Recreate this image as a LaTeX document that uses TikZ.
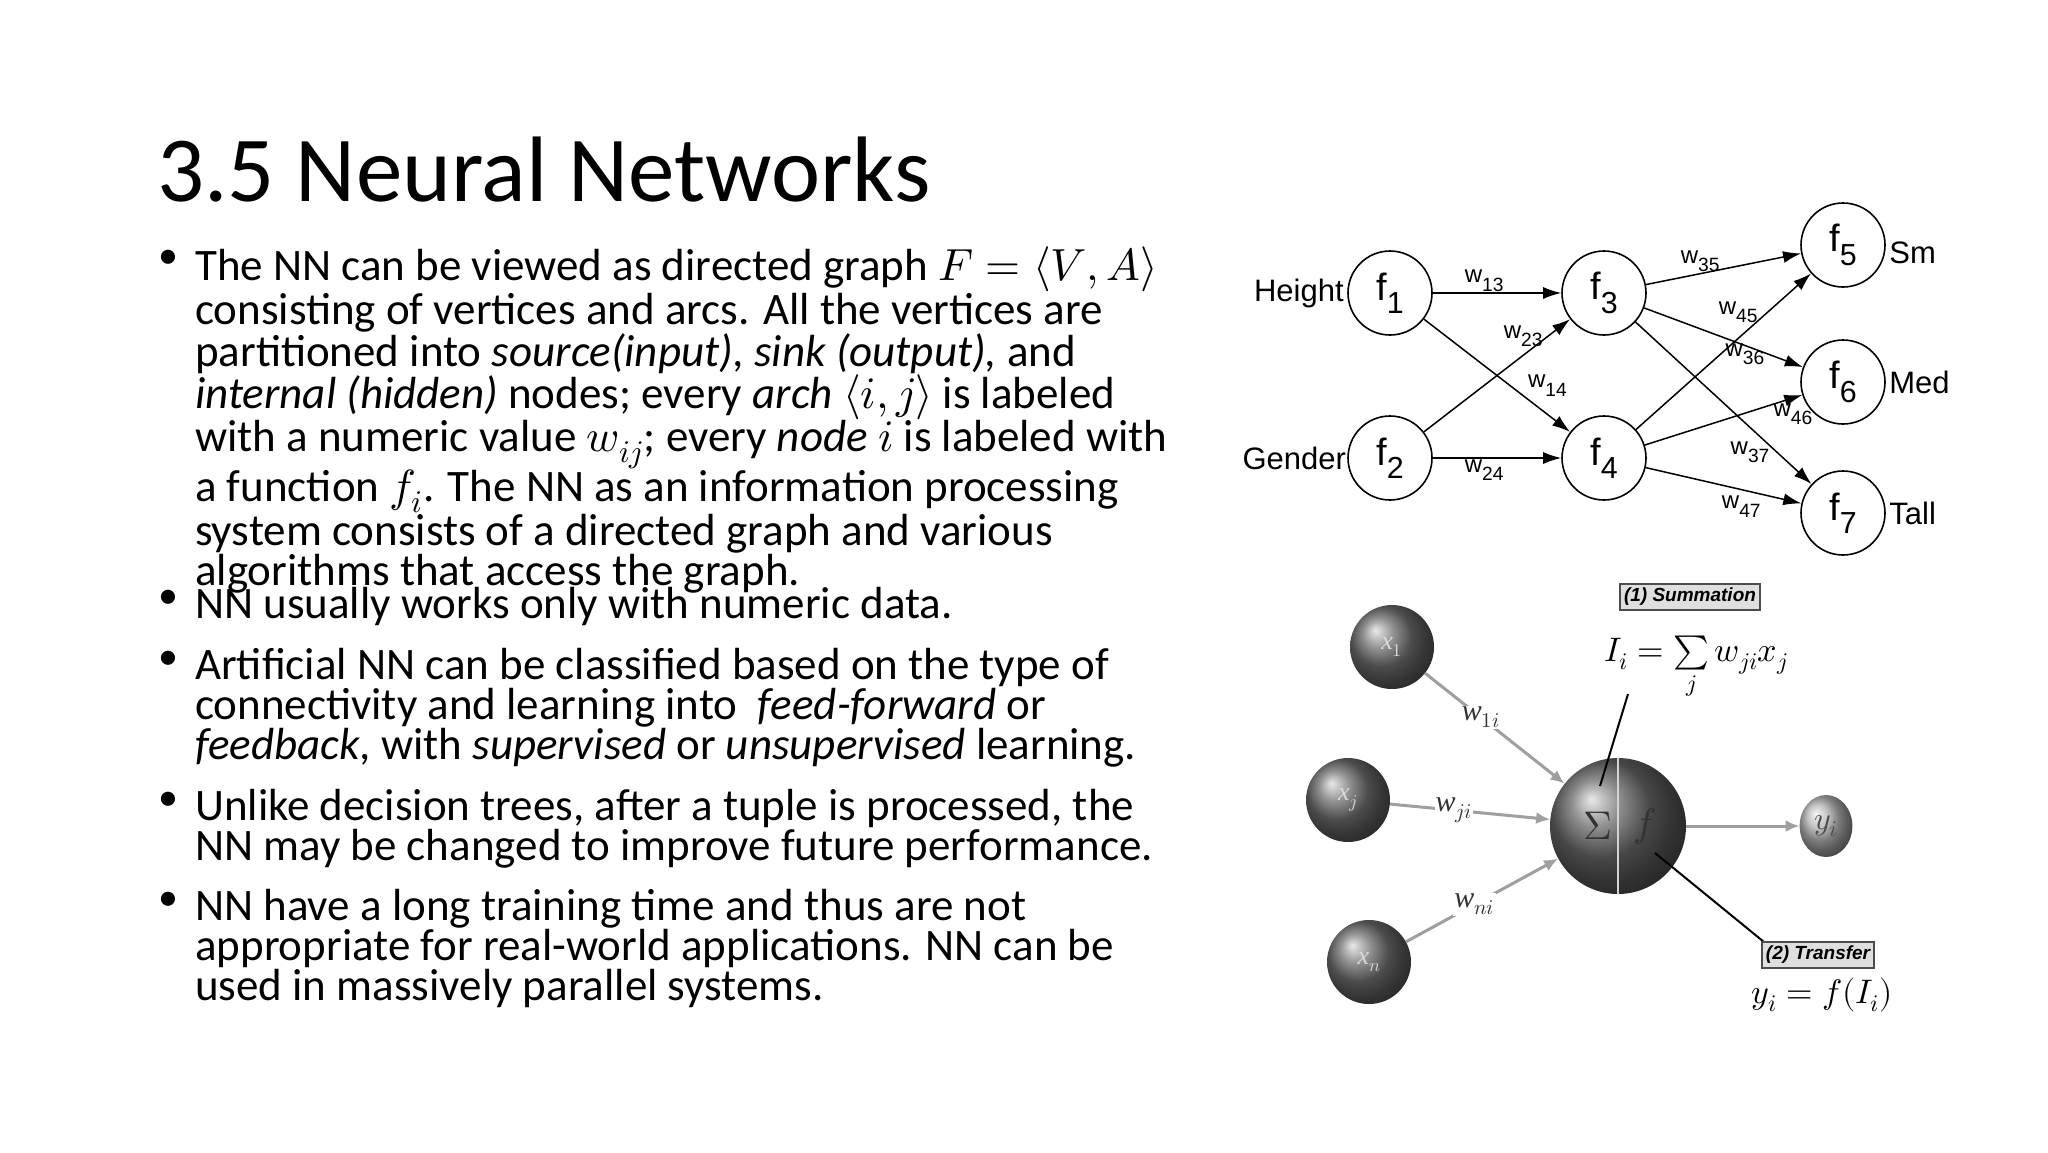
\documentclass[tikz,border=0pt]{standalone}
\usepackage{fontspec}
\usepackage{unicode-math}
\setmathfont{Latin Modern Math}
\setmainfont{Carlito}
\newfontfamily\arial{Liberation Sans}
\newfontfamily\timesf{Liberation Serif}
\usetikzlibrary{arrows.meta}
\newcommand{\sbx}[1]{\raisebox{-0.35em}{\fontsize{0.8em}{1em}\selectfont #1}}
\begin{document}
\begin{tikzpicture}[x=1pt,y=-1pt,
  fn/.style={circle,draw,line width=1.6pt,minimum size=84pt,inner sep=0pt,font=\arial\fontsize{38}{38}\selectfont},
  lbl/.style={font=\arial\fontsize{31}{31}\selectfont},
  wl/.style={font=\arial\fontsize{24}{24}\selectfont,inner sep=1pt},
  ar/.style={-{Latex[length=18pt,width=12pt]},line width=1.5pt},
  body/.style={anchor=north west,align=left,inner sep=0pt,font=\fontsize{45}{40}\selectfont},
  bul/.style={anchor=north west,inner sep=0pt,font=\fontsize{40}{40}\selectfont},
  ball/.style={circle,minimum size=84pt,inner sep=0pt,ball color=gray!85!black,text=gray!30,font=\timesf\itshape\fontsize{26}{26}\selectfont},
  gl/.style={draw=gray!75,line width=3pt,-{Latex[length=14pt,width=12pt]}},
  wt/.style={font=\timesf\itshape\fontsize{30}{30}\selectfont,fill=white,inner sep=1pt,text=gray!40!black},
  boxl/.style={draw=gray!60!black,fill=gray!25,line width=1.5pt,font=\arial\bfseries\itshape\fontsize{19}{19}\selectfont,inner sep=4pt}
]
\useasboundingbox (0,0) rectangle (2048,1152);
\fill[white] (0,0) rectangle (2048,1152);
\node[anchor=base west,inner sep=0pt,font=\fontsize{93}{93}\selectfont] (title) at (157,201) {3.5 Neural Networks};

\node[bul] (b1) at (158,250) {•};
\node[body] (t1) at (195,247) {The NN can be viewed as directed graph $F=\langle V,A\rangle$\\
consisting of vertices and arcs. All the vertices are\\
partitioned into \textit{source(input), sink (output),} and\\
\textit{internal (hidden)} nodes; every \textit{arch} $\langle i,j\rangle$ is labeled\\
with a numeric value $w_{ij}$; every \textit{node} $i$ is labeled with\\
a function $f_i$. The NN as an information processing\\
system consists of a directed graph and various\\
algorithms that access the graph.};
\node[bul] (b2) at (158,590) {•};
\node[body] (t2) at (195,587) {NN usually works only with numeric data.};
\node[bul] (b3) at (158,651) {•};
\node[body] (t3) at (195,648) {Artificial NN can be classified based on the type of\\
connectivity and learning into \ \textit{feed-forward} or\\
\textit{feedback}, with \textit{supervised} or \textit{unsupervised} learning.};
\node[bul] (b4) at (158,792) {•};
\node[body] (t4) at (195,789) {Unlike decision trees, after a tuple is processed, the\\
NN may be changed to improve future performance.};
\node[bul] (b5) at (158,892) {•};
\node[body] (t5) at (195,889) {NN have a long training time and thus are not\\
appropriate for real-world applications. NN can be\\
used in massively parallel systems.};

% top network
\node[fn] (f1) at (1390,293) {f\sbx{1}};
\node[fn] (f2) at (1390,458) {f\sbx{2}};
\node[fn] (f3) at (1604,293) {f\sbx{3}};
\node[fn] (f4) at (1604,458) {f\sbx{4}};
\node[fn] (f5) at (1843,245) {f\sbx{5}};
\node[fn] (f6) at (1843,382) {f\sbx{6}};
\node[fn] (f7) at (1843,513) {f\sbx{7}};
\node[lbl,anchor=east] (lh) at (f1.west) {Height};
\node[lbl,anchor=east,inner sep=1pt] (lg) at (f2.west) {Gender};
\node[lbl,anchor=west] (ls) at ([yshift=-8pt]f5.east) {Sm};
\node[lbl,anchor=west] (lm) at (f6.east) {Med};
\node[lbl,anchor=west] (lt) at (f7.east) {Tall};
\draw[ar] (f1) -- node[wl,above,pos=0.4]{w\sbx{13}} (f3);
\draw[ar] (f1) -- node[wl,pos=0.7,above right]{w\sbx{14}} (f4);
\draw[ar] (f2) -- node[wl,pos=0.85,left=4pt]{w\sbx{23}} (f3);
\draw[ar] (f2) -- node[wl,below,pos=0.4]{w\sbx{24}} (f4);
\draw[ar] (f3) -- node[wl,above,pos=0.35]{w\sbx{35}} (f5);
\draw[ar] (f3) -- node[wl,pos=0.78,left=2pt]{w\sbx{36}} (f6);
\draw[ar] (f3) -- (f7);
\draw[ar] (f4) -- node[wl,pos=0.75,left=8pt]{w\sbx{45}} (f5);
\draw[ar] (f4) -- node[wl,pos=0.82,below right=-2pt]{w\sbx{46}} (f6);
\draw[ar] (f4) -- node[wl,below left,pos=0.75]{w\sbx{47}} (f7);
\node[wl] (w37) at (1750,452) {w\sbx{37}};

% bottom neuron
\node[ball] (x1) at (1392,647) {x$_1$};
\node[ball] (xj) at (1348,800) {x$_j$};
\node[ball] (xn) at (1369,962) {x$_n$};
\node[circle,minimum size=136pt,inner sep=0pt,ball color=gray!80!black] (N) at (1618,826) {};
\draw[gray!35,line width=1.5pt] (N.north) -- (N.south);
\node[font=\fontsize{40}{40}\selectfont,text=black!80] (sig) at (1598,826) {$\Sigma$};
\node[font=\fontsize{40}{40}\selectfont,text=black!80] (ff) at (1645,826) {$f$};
\node[circle,minimum width=62pt,inner sep=0pt,ball color=gray!60,xscale=0.85,text=gray!20!black] (yi) at (1826,826) {};
\node[font=\fontsize{32}{32}\selectfont,text=black!70] (yl) at (yi) {$y_i$};
\draw[gl] (x1) -- node[wt,pos=0.4]{w$_{1i}$} (N);
\draw[gl] (xj) -- node[wt,pos=0.4]{w$_{ji}$} (N);
\draw[gl] (xn) -- node[wt,pos=0.45]{w$_{ni}$} (N);
\draw[gl] (N) -- (yi);
\node[boxl] (sb) at (1690,597) {(1) Summation};
\node[font=\fontsize{34}{34}\selectfont] (eq1) at (1696,668) {$I_i=\sum\limits_j w_{ji}x_j$};
\coordinate (e1a) at (1628,694);
\coordinate (e1b) at (1600,786);
\draw[line width=2pt] (e1a) -- (e1b);
\coordinate (e2a) at (1655,853);
\coordinate (e2b) at (1764,942);
\draw[line width=2pt] (e2a) -- (e2b);
\node[boxl] (tb) at (1818,955) {(2) Transfer};
\node[font=\fontsize{34}{34}\selectfont] (eq2) at (1822,995) {$y_i=f(I_i)$};
\end{tikzpicture}
\end{document}
